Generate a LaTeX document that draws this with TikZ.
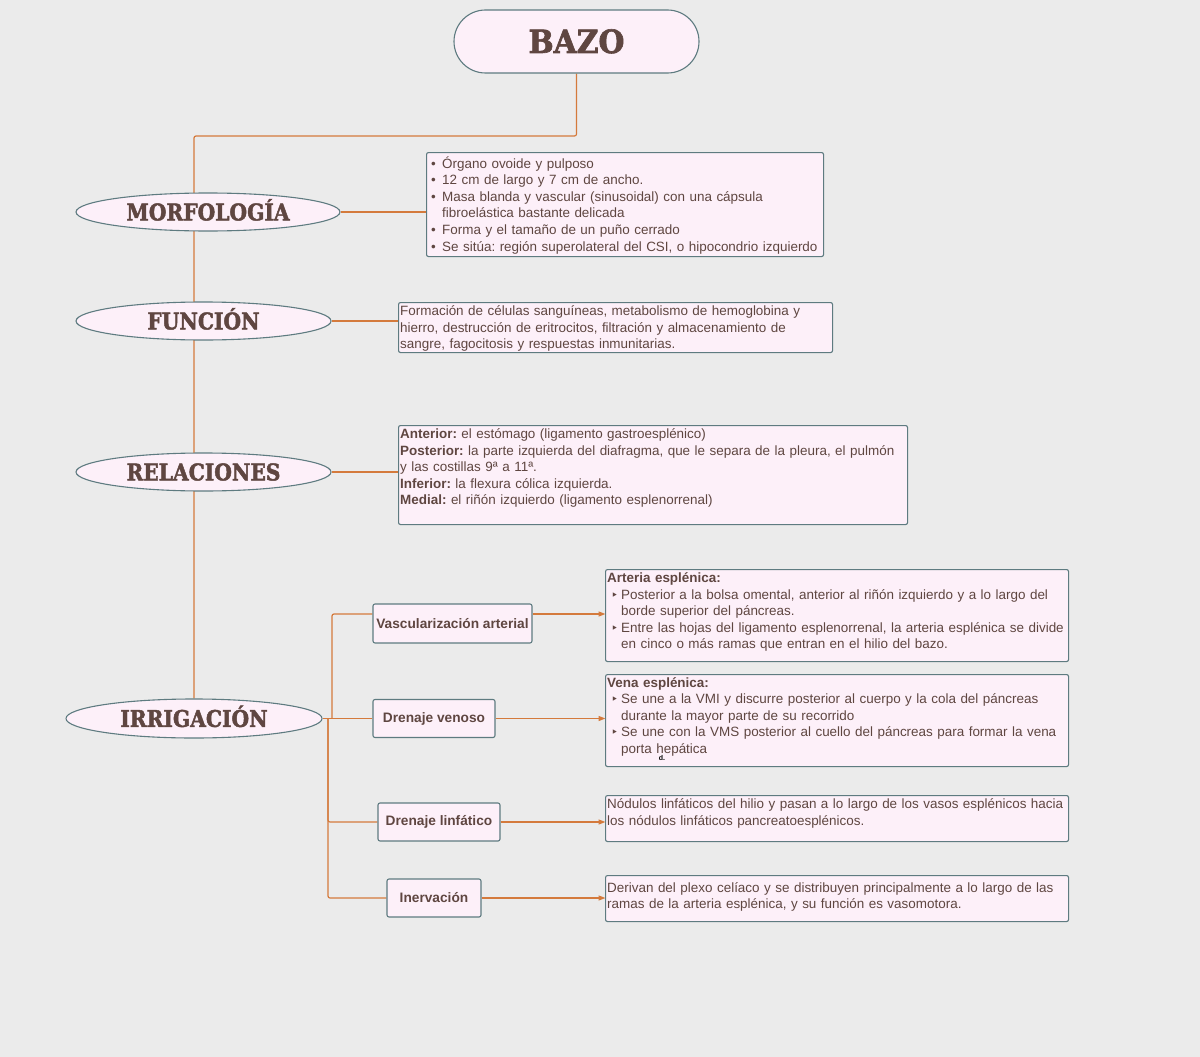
\documentclass[tikz,border=0pt]{standalone}
\usepackage{fontspec}
\setmainfont{Liberation Sans}
\newfontfamily\slab[FakeStretch=0.88,FakeBold=2]{DejaVu Serif Bold}
\newfontfamily\slabt[FakeStretch=0.93,FakeBold=2]{DejaVu Serif Bold}
\newfontfamily\dejavu{DejaVu Sans}
\usetikzlibrary{shapes.geometric,shapes.misc,arrows.meta,backgrounds}
\definecolor{bgc}{HTML}{EBEBEB}
\definecolor{pinkf}{HTML}{FDF0F9}
\definecolor{bord}{HTML}{5E7B80}
\definecolor{brownt}{HTML}{5F4641}
\definecolor{orng}{HTML}{D47A3C}
\frenchspacing
\newcommand{\bul}{\makebox[11pt][l]{•}}
\newcommand{\ind}{\hspace*{11pt}}
\newcommand{\tri}{\hspace*{4pt}\makebox[10pt][l]{\dejavu\fontsize{12}{12}\selectfont ‣}}
\newcommand{\tind}{\hspace*{14pt}}
\tikzset{
  ell/.style={ellipse, draw=bord, fill=pinkf, line width=1.1pt, inner sep=0pt, text=brownt, text height=16.8pt, text depth=0pt, font=\slab\fontsize{23}{23}\selectfont},
  bigbox/.style={draw=bord, fill=pinkf, rounded corners=2pt, line width=1.1pt, inner sep=0pt, anchor=north west},
  smallbox/.style={draw=bord, fill=pinkf, rounded corners=2pt, line width=1.1pt, inner sep=0pt, text=brownt, font=\bfseries\fontsize{13.7}{16}\selectfont},
  txt/.style={anchor=base west, inner sep=0pt, align=left, text=brownt, font=\fontsize{13.45}{16.6}\selectfont},
  conn/.style={draw=orng, line width=1.2pt},
  arr/.style={draw=orng, line width=1.2pt, -{Triangle[length=7pt,width=5pt]}, shorten >=-0.5pt}
}
\begin{document}
\begin{tikzpicture}[x=1pt,y=-1pt]
\useasboundingbox (0,0) rectangle (1200,1057);

% title
\node[rounded rectangle, draw=bord, fill=pinkf, line width=1.1pt, minimum width=245pt, minimum height=63pt, inner sep=0pt, text=brownt, text height=23pt, text depth=0pt, font=\slabt\fontsize{32}{32}\selectfont] (bazo) at (576.5,41.5) {BAZO};

% main ellipses
\node[ell, minimum width=264pt, minimum height=38pt] (morf) at (208,212) {MORFOLOGÍA};
\node[ell, minimum width=255pt, minimum height=38pt] (func) at (203.5,321) {FUNCIÓN};
\node[ell, minimum width=255pt, minimum height=38pt] (rel) at (203.5,472) {RELACIONES};
\node[ell, minimum width=256pt, minimum height=39pt] (irr) at (194,718.5) {IRRIGACIÓN};

% right boxes
\node[bigbox, minimum width=397pt, minimum height=104pt] (morfbox) at (426,152) {};
\node[txt, text width=395pt] (morft) at (431,168) {\bul Órgano ovoide y pulposo\\
\bul 12 cm de largo y 7 cm de ancho.\\
\bul Masa blanda y vascular (sinusoidal) con una cápsula\\
\ind fibroelástica bastante delicada\\
\bul Forma y el tamaño de un puño cerrado\\
\bul Se sitúa: región superolateral del CSI, o hipocondrio izquierdo};

\node[bigbox, minimum width=434pt, minimum height=50pt] (funcbox) at (398,302) {};
\node[txt, text width=430pt] (funct) at (400,315.5) {Formación de células sanguíneas, metabolismo de hemoglobina y\\
hierro, destrucción de eritrocitos, filtración y almacenamiento de\\
sangre, fagocitosis y respuestas inmunitarias.};

\node[bigbox, minimum width=509pt, minimum height=99pt] (relbox) at (398,425) {};
\node[txt, text width=505pt] (relt) at (400,438.5) {\textbf{Anterior:} el estómago (ligamento gastroesplénico)\\
\textbf{Posterior:} la parte izquierda del diafragma, que le separa de la pleura, el pulmón\\
y las costillas 9ª a 11ª.\\
\textbf{Inferior:} la flexura cólica izquierda.\\
\textbf{Medial:} el riñón izquierdo (ligamento esplenorrenal)};

% irrigation sub boxes
\node[smallbox, minimum width=159pt, minimum height=39pt] (vasc) at (452.5,623.5) {Vascularización arterial};
\node[smallbox, minimum width=122pt, minimum height=38pt] (ven) at (434,718.5) {Drenaje venoso};
\node[smallbox, minimum width=122pt, minimum height=38pt] (linf) at (439,822) {Drenaje linfático};
\node[smallbox, minimum width=94pt, minimum height=38pt] (inerv) at (434,898) {Inervación};

\node[bigbox, minimum width=463pt, minimum height=92pt] (art) at (605,569) {};
\node[txt, text width=460pt] (artt) at (607,582.5) {\textbf{Arteria esplénica:}\\
\tri Posterior a la bolsa omental, anterior al riñón izquierdo y a lo largo del\\
\tind borde superior del páncreas.\\
\tri Entre las hojas del ligamento esplenorrenal, la arteria esplénica se divide\\
\tind en cinco o más ramas que entran en el hilio del bazo.};

\node[bigbox, minimum width=463pt, minimum height=92pt] (vena) at (605,674) {};
\node[txt, text width=460pt] (venat) at (607,687) {\textbf{Vena esplénica:}\\
\tri Se une a la VMI y discurre posterior al cuerpo y la cola del páncreas\\
\tind durante la mayor parte de su recorrido\\
\tri Se une con la VMS posterior al cuello del páncreas para formar la vena\\
\tind porta hepática};
\node[inner sep=0pt, text=black, font=\bfseries\fontsize{7}{7}\selectfont] (dmark) at (662,758) {d.};

\node[bigbox, minimum width=463pt, minimum height=46pt] (nod) at (605,795) {};
\node[txt, text width=460pt] (nodt) at (607,808.5) {Nódulos linfáticos del hilio y pasan a lo largo de los vasos esplénicos hacia\\
los nódulos linfáticos pancreatoesplénicos.};

\node[bigbox, minimum width=463pt, minimum height=46pt] (der) at (605,875) {};
\node[txt, text width=460pt] (dert) at (607,892) {Derivan del plexo celíaco y se distribuyen principalmente a lo largo de las\\
ramas de la arteria esplénica, y su función es vasomotora.};

% connectors
\begin{scope}[on background layer]
\fill[bgc] (0,0) rectangle (1200,1057);
\coordinate (j1) at (194,136);
\coordinate (ja) at (332,718.5);
\coordinate (jb) at (328,718.5);
\draw[conn, rounded corners=2pt] (bazo.south) |- (j1) -- (irr.north);
\draw[conn] (morf.east) -- (morf.east -| morfbox.west);
\draw[conn] (func.east) -- (func.east -| funcbox.west);
\draw[conn] (rel.east) -- (rel.east -| relbox.west);
\draw[conn] (irr.east) -- (ven.west);
\draw[conn, rounded corners=2pt] (ja) |- ([yshift=9.5pt]vasc.west);
\draw[conn, rounded corners=2pt] (jb) |- (linf.west);
\draw[conn, rounded corners=2pt] (jb) |- (inerv.west);
\end{scope}
\draw[arr] ([yshift=9.5pt]vasc.east) -- ([yshift=9.5pt]vasc.east -| art.west);
\draw[arr] (ven.east) -- (ven.east -| vena.west);
\draw[arr] (linf.east) -- (linf.east -| nod.west);
\draw[arr] (inerv.east) -- (inerv.east -| der.west);
\end{tikzpicture}
\end{document}
